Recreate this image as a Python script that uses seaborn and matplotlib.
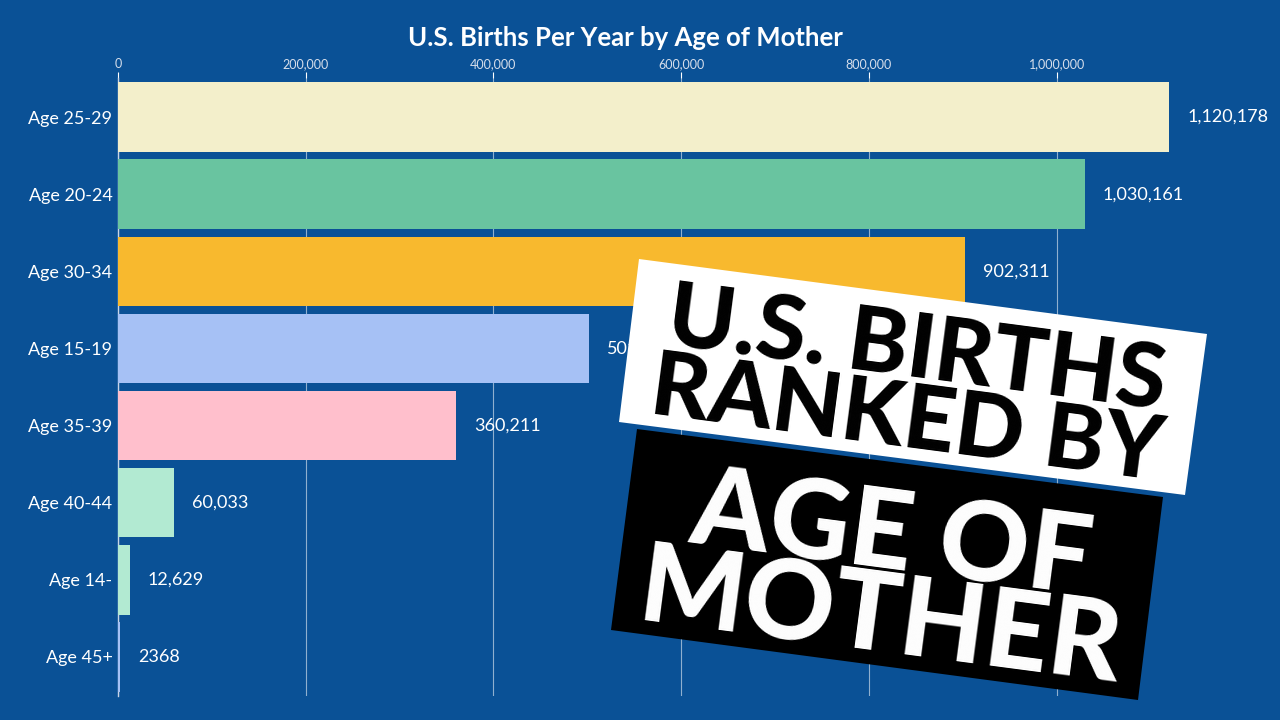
import matplotlib
matplotlib.use('Agg')
import matplotlib.pyplot as plt
from matplotlib.patches import Polygon
import seaborn as sns
import pandas as pd

# data
ages = ['Age 25-29', 'Age 20-24', 'Age 30-34', 'Age 15-19',
        'Age 35-39', 'Age 40-44', 'Age 14-', 'Age 45+']
births = [1120178, 1030161, 902311, 501597, 360211, 60033, 12629, 2368]
bar_colors = ['#f3efcb', '#69c4a0', '#f8b92e', '#a6c1f5',
              '#ffbfcc', '#b2ead2', '#b2ead2', '#a6c1f5']
xticks = [0, 200000, 400000, 600000, 800000, 1000000]

bg = '#0a5196'
W, H = 1280, 720

df = pd.DataFrame({'age': ages, 'births': births})

sns.set_style('white')
plt.rcParams['font.family'] = ['Lato', 'DejaVu Sans']

fig = plt.figure(figsize=(12.8, 7.2), dpi=100, facecolor=bg)
ax = fig.add_axes([0.0922, 0.034, 0.822, 0.857])
ax.set_facecolor(bg)

sns.barplot(data=df, x='births', y='age', hue='age', palette=bar_colors,
            legend=False, width=0.9, saturation=1, linewidth=0,
            edgecolor='none', ax=ax, zorder=3)

ax.set_xlim(0, 1121000)
ax.set_xticks(xticks)
ax.set_xticklabels([f'{t:,}' for t in xticks])
ax.xaxis.tick_top()
ax.tick_params(axis='x', colors='white', labelcolor='#d6deeb', labelsize=9,
               length=4, width=0.8, pad=2)
ax.tick_params(axis='y', length=0, labelcolor='white', labelsize=13, pad=4)
ax.grid(axis='x', color='white', alpha=0.55, linewidth=0.8, zorder=0)
ax.set_axisbelow(True)
for s in ['top', 'right', 'bottom']:
    ax.spines[s].set_visible(False)
ax.spines['left'].set_color('#c8d4e6')
ax.spines['left'].set_linewidth(1)
ax.set_xlabel('')
ax.set_ylabel('')

for i, v in enumerate(births):
    lab = f'{v:,}' if v >= 10000 else str(v)
    ax.text(v + 19000, i, lab, color='white', fontsize=13, va='center', ha='left')

fig.text(0.489, 0.947, 'U.S. Births Per Year by Age of Mother', color='white',
         fontsize=18.5, fontweight='bold', ha='center', va='center')


# thumbnail overlay: tilted boxes, given in pixel positions from the top left
def px(x, y):
    return (x / W, 1 - y / H)


def card(corners, color):
    fig.add_artist(Polygon([px(x, y) for x, y in corners], closed=True,
                           transform=fig.transFigure, facecolor=color,
                           edgecolor='none', zorder=9))


card([(639, 259), (1207, 334), (1185, 495), (619, 422)], 'white')
card([(637, 429), (1163, 497), (1138, 700), (611, 630)], 'black')

fig.text(*px(912, 386), 'U.S. BIRTHS\nRANKED BY', rotation=-7.5,
         rotation_mode='anchor', ha='center', va='center', color='black',
         fontsize=65, fontweight='black', linespacing=0.82, zorder=10)
fig.text(*px(886, 578), 'AGE OF\nMOTHER', rotation=-7.5,
         rotation_mode='anchor', ha='center', va='center', color='white',
         fontsize=80, fontweight='black', linespacing=0.8, zorder=10)

fig.savefig('out.png', dpi=100, facecolor=bg)
